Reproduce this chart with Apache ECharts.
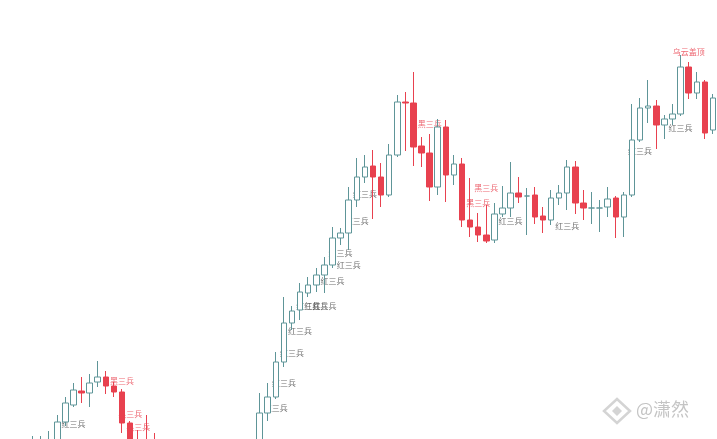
<!DOCTYPE html>
<html>
<head>
<meta charset="utf-8">
<script src="https://cdn.jsdelivr.net/npm/echarts@6/dist/echarts.min.js"></script>
<style>
html,body{margin:0;padding:0;background:#fff;}
#chart{width:717px;height:439px;}
</style>
</head>
<body>
<div id="chart"></div>
<script>
// candle data: [open, close, lowest, highest]
const ohlc = [
[98.4,99.4,97.9,100.3],
[98.7,99.7,98.1,100.3],
[98.9,99.8,98.4,100.8],
[99.7,101.7,99.2,102.4],
[101.7,103.6,101.3,104.2],
[103.4,104.9,103.2,105.6],
[104.8,104.6,103.6,106.2],
[104.6,105.6,103.2,106.5],
[105.7,106.2,105.2,107.8],
[106.2,105.3,104.5,106.8],
[105.3,104.7,104.2,105.7],
[104.7,101.6,100.6,105.0],
[101.6,98.9,98.4,101.8],
[99.8,99.0,98.6,100.9],
[99.8,98.9,98.4,102.4],
[99.8,98.9,98.3,100.6],
[99.0,98.2,97.6,99.6],
[98.2,97.0,96.5,98.8],
[97.0,97.6,96.2,98.0],
[97.6,96.4,95.9,98.1],
[96.4,95.8,95.0,96.9],
[95.8,96.6,95.3,97.2],
[96.6,97.3,96.0,97.8],
[97.3,96.9,96.3,98.0],
[96.9,97.8,96.5,98.3],
[97.8,98.5,97.2,99.0],
[98.5,98.1,97.6,99.2],
[98.1,99.0,97.8,99.5],
[99.4,102.6,98.8,104.6],
[102.6,104.2,101.8,105.6],
[104.2,107.7,104.0,108.7],
[107.7,111.6,107.2,114.2],
[111.6,112.8,110.9,113.3],
[112.9,114.7,111.9,115.6],
[114.6,115.4,114.2,116.2],
[115.4,116.4,114.7,117.1],
[116.4,117.4,114.6,118.2],
[117.4,120.1,117.1,121.2],
[120.1,120.6,119.4,121.1],
[120.6,123.9,118.9,125.2],
[123.9,126.2,123.2,128.1],
[126.2,127.2,125.6,128.4],
[127.3,126.2,122.0,128.9],
[126.2,124.4,123.2,127.6],
[124.4,128.4,124.2,129.5],
[128.4,133.7,128.2,134.4],
[133.7,133.6,128.8,134.7],
[133.6,129.2,127.3,136.7],
[129.3,128.6,127.2,130.2],
[128.6,125.2,123.8,130.5],
[125.2,131.2,124.4,132.0],
[131.2,126.4,123.7,131.9],
[126.4,127.5,125.4,128.4],
[127.5,121.9,121.2,128.1],
[121.9,121.2,120.2,126.1],
[121.2,120.4,119.7,122.6],
[120.4,119.8,119.6,123.4],
[119.9,122.5,119.6,123.6],
[122.5,123.1,122.2,125.3],
[123.1,124.6,122.2,127.7],
[124.6,124.2,123.6,126.2],
[124.3,124.3,120.4,125.1],
[124.4,122.2,121.5,125.2],
[122.3,121.9,120.6,123.2],
[121.9,124.1,121.4,124.9],
[124.1,124.6,123.4,125.4],
[124.6,127.2,122.9,127.9],
[127.2,123.6,122.5,127.8],
[123.6,123.1,121.9,124.9],
[123.1,123.1,121.5,124.7],
[123.1,123.1,120.7,123.9],
[123.2,124.0,122.2,125.2],
[124.1,122.2,120.1,124.3],
[122.2,124.4,120.2,124.7],
[124.4,129.9,124.2,133.5],
[129.9,133.1,129.7,134.1],
[133.1,133.3,131.6,135.9],
[133.3,131.4,129.0,133.9],
[131.4,132.0,130.0,132.4],
[132.0,132.5,131.4,133.5],
[132.5,137.2,132.3,138.4],
[137.2,134.6,134.0,137.7],
[134.6,135.7,134.0,136.7],
[135.7,130.6,130.0,135.9],
[130.9,134.1,130.5,134.5]
];
const categories = ohlc.map((_, i) => 'K' + (i + 1));

// pattern annotations: [candle index, value]
const soldierMarks = [
[5,101.5],[30,103.1],[31,105.6],[32,108.6],[33,110.8],[34,113.3],[35,113.3],[36,113.3],
[37,115.8],[38,118.6],[39,117.4],[40,121.8],[41,124.5],[59,121.8],[66,121.3],[75,128.8],[80,131.1]
];
const crowMarks = [[11,105.8],[12,102.5],[13,101.2],[49,131.5],[55,123.6],[56,125.1]];
const cloudMarks = [[81,138.7]];
const soldierText = '红三兵';
const crowText = '黑三兵';
const cloudText = '乌云盖顶';

const UP = '#5e9598';
const DOWN = '#e8414f';

const chart = echarts.init(document.getElementById('chart'), null, {renderer: 'canvas'});
const band = 8.119;
const labelSeries = (data, text, color) => ({
  type: 'scatter',
  z: 1,
  symbol: 'circle',
  symbolSize: 1,
  silent: true,
  itemStyle: {color: 'transparent'},
  label: {
    show: true, position: 'inside', formatter: text, color: color,
    fontSize: 8, fontFamily: '"Noto Sans CJK SC", sans-serif'
  },
  data: data
});

chart.setOption({
  animation: false,
  backgroundColor: '#ffffff',
  grid: {left: 28.94, width: ohlc.length * band, top: 0, bottom: 0},
  xAxis: {type: 'category', data: categories, show: false, boundaryGap: true},
  yAxis: {type: 'value', min: 100, max: 143.9, show: false, splitLine: {show: false}},
  series: [
    {
      type: 'candlestick',
      z: 3,
      barWidth: 6,
      clip: true,
      itemStyle: {
        color: '#ffffff', color0: DOWN,
        borderColor: UP, borderColor0: DOWN, borderColorDoji: UP, borderWidth: 1
      },
      data: ohlc
    },
    labelSeries(soldierMarks, soldierText, '#4a4a4a'),
    labelSeries(crowMarks, crowText, DOWN),
    labelSeries(cloudMarks, cloudText, DOWN)
  ],
  graphic: [
    {type: 'polygon', shape: {points: [[617,399],[630,411],[617,423],[604,411]]}, style: {fill: 'none', stroke: '#d4d4d4', lineWidth: 2.5}},
    {type: 'polygon', shape: {points: [[617,406],[622,411],[617,416],[612,411]]}, style: {fill: '#d4d4d4'}},
    {type: 'text', left: 636, top: 400, style: {text: '@潇然', fontSize: 18, fill: '#c4c4c4', fontFamily: '"Noto Sans CJK SC", sans-serif'}}
  ]
});
</script>
</body>
</html>
